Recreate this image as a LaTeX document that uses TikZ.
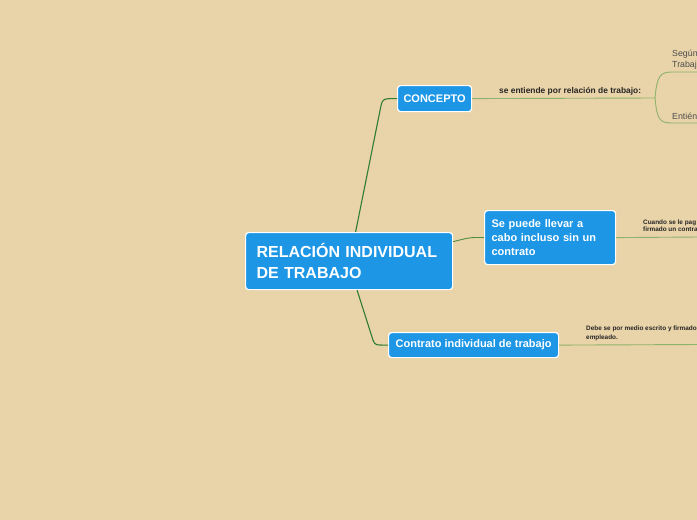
\documentclass[tikz,border=0pt]{standalone}
\usepackage{fontspec}
\setmainfont{Liberation Sans}
\usetikzlibrary{positioning}

\definecolor{paper}{HTML}{E9D3A8}
\definecolor{topicblue}{HTML}{1D96E6}
\definecolor{trunkgreen}{HTML}{2F7D32}
\definecolor{branchgreen}{HTML}{4F8C3C}
\definecolor{twiggreen}{HTML}{8DB36C}
\definecolor{notegray}{HTML}{4D4D4D}

\begin{document}
\begin{tikzpicture}[x=1pt,y=-1pt,
    topic/.style={draw=white, line width=1.2pt, fill=topicblue, rounded corners=3pt, text=white, inner sep=0pt, anchor=north west},
    trunk/.style={trunkgreen, line width=1.1pt},
    twig/.style={twiggreen, line width=0.9pt},
    note/.style={anchor=base west, inner sep=0pt, text=black!85, align=left},
    leaf/.style={anchor=base west, inner sep=0pt, text=notegray, font=\fontsize{8.8}{11}\selectfont}]

    \useasboundingbox (0,0) rectangle (697,520);
    \fill[paper] (0,0) rectangle (697,520);
    \clip (0,0) rectangle (697,520);

    %central topic
    \node[topic, minimum width=207pt, minimum height=57pt, text width=185pt, align=left, font=\bfseries\fontsize{16}{21}\selectfont] (main) at (245,232) {RELACIÓN INDIVIDUAL\\DE TRABAJO};

    %main topics
    \node[topic, minimum width=74pt, minimum height=26pt, font=\bfseries\fontsize{11}{13}\selectfont] (concepto) at (397,85) {CONCEPTO};
    \node[topic, minimum width=131pt, minimum height=54pt, text width=117pt, align=left, font=\bfseries\fontsize{11}{14}\selectfont] (sinContrato) at (484,210) {Se puede llevar a\\cabo incluso sin un\\contrato};
    \node[topic, minimum width=170pt, minimum height=25pt, font=\bfseries\fontsize{11}{13}\selectfont] (contrato) at (388,332) {Contrato individual de trabajo};

    %trunks
    \draw[trunk] ([xshift=6.5pt]main.north) -- ([xshift=-16pt,yshift=-7pt]concepto.west) .. controls ([xshift=-14pt]concepto.west) .. (concepto.west);
    \draw[trunk] ([xshift=8pt]main.south) -- ([xshift=-15pt,yshift=5pt]contrato.west) .. controls ([xshift=-13pt]contrato.west) .. (contrato.west);
    \draw[branchgreen, line width=0.9pt] ([yshift=19.5pt]main.east) .. controls (468,238) and (470,237) .. (sinContrato.west);

    %concepto: se entiende por relacion de trabajo
    \coordinate (fork) at (655,98);
    \coordinate (edgeA) at (700,72);
    \coordinate (edgeB) at (700,123);
    \draw[twig] (concepto.east) -- (fork);
    \draw[twig] (fork) .. controls (657,76) and (660,72) .. (672,72) -- (edgeA);
    \draw[twig] (fork) .. controls (657,120) and (660,123) .. (672,123) -- (edgeB);
    \node[note, font=\bfseries\fontsize{8.4}{9}\selectfont] (entiende) at (499,93) {se entiende por relación de trabajo:};
    \node[leaf, align=left] (segun) at (672,67) {Según\\Trabaj};
    \node[leaf] (entien) at (672,119) {Entién};

    %sin contrato
    \coordinate (edgeC) at (700,237);
    \draw[twig] (sinContrato.east) -- (edgeC);
    \node[note, font=\bfseries\fontsize{6.4}{7}\selectfont] (cuando) at (643,231) {Cuando se le pag\\firmado un contra};

    %contrato individual
    \coordinate (edgeD) at (700,344.5);
    \draw[twig] (contrato.east) -- (edgeD);
    \node[note, font=\bfseries\fontsize{6.4}{9}\selectfont] (debe) at (586,339) {Debe se por medio escrito y firmado\\empleado.};
\end{tikzpicture}
\end{document}
